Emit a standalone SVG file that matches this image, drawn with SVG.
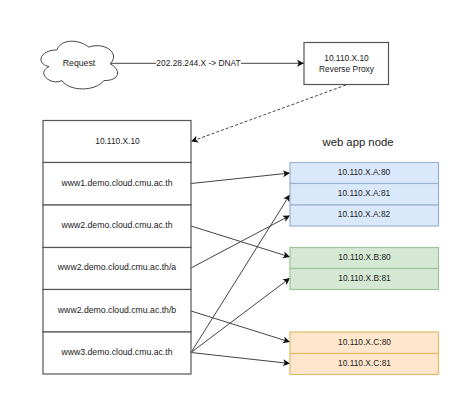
<svg xmlns="http://www.w3.org/2000/svg" width="474" height="410" viewBox="0 0 474 410">
<style>
text{font-family:"Liberation Sans",Arial,sans-serif;font-size:8.7px;fill:#222;text-anchor:middle}
.ip{font-size:8.4px}
.box{fill:#fff;stroke:#555;stroke-width:1.2}
.bl{fill:#dae8fc;stroke:#9db2cf;stroke-width:1.2}
.gr{fill:#d5e8d4;stroke:#9fc298;stroke-width:1.2}
.or{fill:#ffe6cc;stroke:#dfbc6c;stroke-width:1.2}
.c{fill:none;stroke:#444;stroke-width:1;marker-end:url(#a)}
</style>
<defs><marker id="a" markerUnits="userSpaceOnUse" markerWidth="8" markerHeight="8" refX="7" refY="4" orient="auto"><path d="M0 .5L7 4L0 7.500L1.700 4Z" fill="#111"/></marker></defs>
<rect width="474" height="410" fill="#fff"/>
<g id="connectors">
<path class="c" d="M110 63.3H304"/>
<path class="c" stroke-dasharray="3 2" d="M346 85L191 141.5"/>
<path class="c" d="M191 183.500L290 173"/>
<path class="c" d="M191 226L290 257"/>
<path class="c" d="M191 268L290 215.500"/>
<path class="c" d="M191 311L290 342"/>
<path class="c" d="M191 352.500L290 194.500"/>
<path class="c" d="M191 352.500L290 278"/>
<path class="c" d="M191 352.500L290 363.500"/>
</g>
<g id="request"><path d="M56.800 49.900C39.700 49.900 35.400 63.900 49.100 66.600C35.400 72.800 50.800 86.100 61.900 80.600C69.600 91.700 95.300 91.700 103.800 80.600C120.900 80.600 120.900 69.400 110.200 63.900C120.900 52.700 103.800 41.600 88.800 47.100C78.200 38.800 61.100 38.800 56.800 49.900Z" fill="#fff" stroke="#444" stroke-width="1"/><text x="79" y="65.500">Request</text></g>
<g id="label"><rect x="156" y="58" width="85" height="11" fill="#fff"/><text class="ip" x="198.500" y="66.200">202.28.244.X -&gt; DNAT</text></g>
<g id="proxy"><rect class="box" x="304" y="42.500" width="84.500" height="42"/><text class="ip" x="346.500" y="60.800">10.110.X.10</text><text x="346.500" y="71.500" class="ip">Reverse Proxy</text></g>
<g id="lb-ip"><rect class="box" x="43" y="120.500" width="148" height="42"/><text class="ip" x="117.500" y="143.800">10.110.X.10</text></g>
<g id="lb-www1"><rect class="box" x="43" y="162.500" width="148" height="42.500"/><text x="117" y="185.500">www1.demo.cloud.cmu.ac.th</text></g>
<g id="lb-www2"><rect class="box" x="43" y="205" width="148" height="42.500"/><text x="117" y="228">www2.demo.cloud.cmu.ac.th</text></g>
<g id="lb-www2a"><rect class="box" x="43" y="247.500" width="148" height="42"/><text x="117" y="270.300">www2.demo.cloud.cmu.ac.th/a</text></g>
<g id="lb-www2b"><rect class="box" x="43" y="289.500" width="148" height="42.500"/><text x="117" y="312.500">www2.demo.cloud.cmu.ac.th/b</text></g>
<g id="lb-www3"><rect class="box" x="43" y="332" width="148" height="42"/><text x="117" y="355">www3.demo.cloud.cmu.ac.th</text></g>
<g id="title"><text x="358" y="146" style="font-size:11.300px">web app node</text></g>
<g id="a80"><rect class="bl" x="290" y="162.500" width="148.500" height="21"/><text class="ip" x="364" y="175">10.110.X.A:80</text></g>
<g id="a81"><rect class="bl" x="290" y="183.500" width="148.500" height="21.500"/><text class="ip" x="364" y="196.300">10.110.X.A:81</text></g>
<g id="a82"><rect class="bl" x="290" y="205" width="148.500" height="21"/><text class="ip" x="364" y="217">10.110.X.A:82</text></g>
<g id="b80"><rect class="gr" x="290" y="247.500" width="148.500" height="21"/><text class="ip" x="364.500" y="260">10.110.X.B:80</text></g>
<g id="b81"><rect class="gr" x="290" y="268.500" width="148.500" height="21"/><text class="ip" x="364.500" y="281">10.110.X.B:81</text></g>
<g id="c80"><rect class="or" x="290" y="332" width="148.500" height="21.500"/><text class="ip" x="364.500" y="344.500">10.110.X.C:80</text></g>
<g id="c81"><rect class="or" x="290" y="353.500" width="148.500" height="21"/><text class="ip" x="364.500" y="365.500">10.110.X.C:81</text></g>
</svg>
